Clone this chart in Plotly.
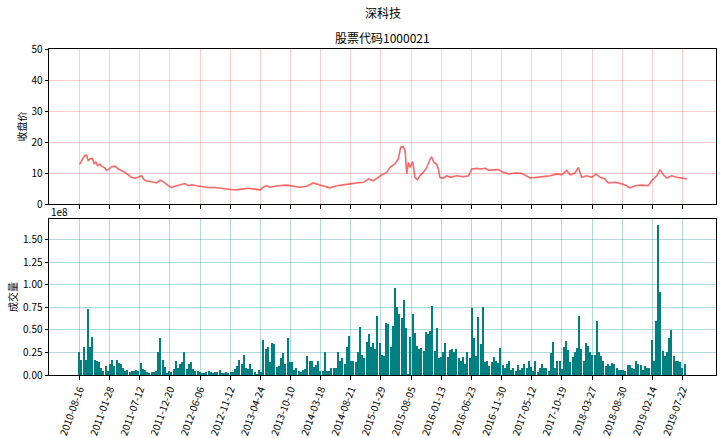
import plotly.graph_objects as go

# ---------------- data ----------------
tick_labels = ["2010-08-16", "2011-01-28", "2011-07-12", "2011-12-20", "2012-06-06",
               "2012-11-12", "2013-04-24", "2013-10-10", "2014-03-18", "2014-08-21",
               "2015-01-29", "2015-08-05", "2016-01-13", "2016-06-23", "2016-11-30",
               "2017-05-12", "2017-10-19", "2018-03-27", "2018-08-30", "2019-02-14",
               "2019-07-22"]
tick_every = 110          # trading days between labelled ticks

# trading-day number of each close-price reading
price_day = [0, 2, 10, 20, 26, 32, 38, 47, 54, 59, 66, 75, 81, 91, 99, 109, 117, 130, 142, 154,
             166, 178, 190, 203, 215, 227, 233, 245, 263, 282, 294, 306, 324, 336, 348, 367, 385,
             397, 409, 427, 446, 470, 494, 519, 543, 567, 592, 616, 640, 659, 671, 683, 695, 707, 725,
             756, 780, 804, 829, 853, 877, 902, 914, 938, 963, 987, 1011, 1036, 1054, 1072, 1090,
             1102, 1121, 1133, 1151, 1163, 1172, 1181, 1188, 1194, 1200, 1206, 1216, 1224, 1233,
             1242, 1254, 1267, 1279, 1285, 1293, 1303, 1309, 1315, 1327, 1340, 1352, 1376, 1400,
             1419, 1431, 1449, 1461, 1479, 1495,
             1504, 1528, 1546, 1565, 1589, 1613, 1631, 1644, 1668, 1692, 1717, 1741, 1759, 1777,
             1790, 1808, 1820, 1832, 1850, 1869, 1884, 1899, 1917, 1929, 1954, 1978, 1996, 2008,
             2027, 2051, 2075, 2087, 2106, 2118, 2130, 2142, 2160, 2179, 2197, 2215]
close_price = [13.2, 12.9, 14.3, 15.6, 15.8, 14.0, 14.5, 14.7, 12.9, 13.7,
               12.4, 12.9, 12.2, 11.8, 10.8, 11.3, 12.0, 12.2, 11.3, 10.8,
               10.2, 9.4, 8.6, 8.3, 8.7, 9.1, 8.1, 7.4, 7.2, 6.8,
               7.7, 7.2, 5.9, 5.3, 5.7, 6.1, 6.6, 5.9, 6.2, 5.9,
               5.6, 5.3, 5.3, 5.1, 4.8, 4.5, 4.8, 5.1, 4.8, 4.5,
               5.4, 5.9, 5.4, 5.6, 5.9,
               6.1, 5.7, 5.4, 5.7, 6.8, 6.1, 5.4, 5.2, 5.9, 6.1,
               6.5, 6.8, 7.0, 8.1, 7.5, 8.6, 9.4, 10.2, 11.8, 12.9,
               14.5, 18.3, 18.5, 17.2, 9.7, 13.4, 11.8, 13.7, 8.6, 7.8,
               9.1, 10.2, 11.8, 14.5, 15.1, 13.4, 12.9, 11.3, 8.6, 8.3,
               9.1, 8.6, 9.1, 8.8, 9.1, 11.3, 11.5, 11.3, 11.5, 10.8,
               11.0, 11.1, 10.2, 9.7, 10.0, 9.9, 9.1, 8.4, 8.6, 8.9,
               9.1, 9.7, 9.4, 10.8, 9.4, 10.0, 11.8, 8.6, 9.1, 8.6,
               9.7, 8.6, 8.1, 6.8, 7.0, 6.5, 5.9, 5.2, 5.9, 6.1,
               5.9, 7.5, 9.1, 11.1, 9.4, 8.4, 9.1, 8.6, 8.3, 8.1]

# traded volume (units of 1e8), one reading every `volume_step` trading days
volume_step = 8
volume_e8 = [0.26, 0.17, 0.31, 0.17, 0.73, 0.31, 0.42, 0.17, 0.16, 0.14,
             0.08, 0.05, 0.10, 0.04, 0.12, 0.17, 0.10, 0.17, 0.13, 0.12,
             0.075, 0.05, 0.06, 0.037, 0.05, 0.045, 0.056, 0.045, 0.13, 0.065,
             0.06, 0.037, 0.015, 0.037, 0.037, 0.04, 0.25, 0.41, 0.17, 0.09,
             0.022, 0.045, 0.037, 0.063, 0.15, 0.075, 0.12, 0.14, 0.26, 0.063,
             0.12, 0.14, 0.067, 0.045, 0.045, 0.03, 0.022, 0.022, 0.03, 0.041,
             0.03, 0.022, 0.03, 0.037, 0.052, 0.015, 0.022, 0.03, 0.022, 0.03,
             0.03, 0.063, 0.10, 0.17, 0.12, 0.22, 0.08, 0.063, 0.12, 0.063,
             0.037, 0.007, 0.056, 0.037, 0.39, 0.29, 0.31, 0.14, 0.35, 0.34,
             0.09, 0.10, 0.19, 0.24,
             0.12, 0.41, 0.14, 0.14, 0.06, 0.075, 0.05, 0.035, 0.056, 0.067,
             0.21, 0.16, 0.15, 0.09, 0.11, 0.15, 0.05, 0.05, 0.26, 0.045,
             0.045, 0.08, 0.08, 0.075, 0.25, 0.16, 0.19, 0.12, 0.31, 0.43,
             0.16, 0.16, 0.14, 0.25, 0.53, 0.22, 0.19, 0.37, 0.45, 0.31,
             0.35, 0.29, 0.66, 0.36, 0.22, 0.21, 0.58, 0.57, 0.31, 0.54,
             0.97, 0.75, 0.68, 0.63, 0.83, 0.52, 0.01, 0.42, 0.68, 0.47,
             0.32, 0.29, 0.30, 0.27, 0.48, 0.45, 0.49, 0.77, 0.27, 0.52,
             0.19, 0.20, 0.25, 0.36, 0.20, 0.28, 0.29, 0.25, 0.29, 0.19,
             0.16, 0.20, 0.12, 0.25, 0.19, 0.74, 0.41, 0.21, 0.64, 0.34,
             0.75, 0.14, 0.16, 0.10,
             0.14, 0.20, 0.16, 0.13, 0.30, 0.11, 0.08, 0.12, 0.16, 0.06,
             0.08, 0.05, 0.11, 0.06, 0.08, 0.12, 0.08, 0.15, 0.09, 0.05,
             0.16, 0.03, 0.08, 0.12, 0.08, 0.08, 0.05, 0.24, 0.37, 0.08,
             0.16, 0.16, 0.07, 0.31, 0.38, 0.28, 0.14, 0.20, 0.26, 0.30,
             0.66, 0.29, 0.16, 0.35, 0.32, 0.26, 0.22, 0.22, 0.60, 0.25,
             0.21, 0.15, 0.10, 0.12, 0.10, 0.13, 0.12, 0.08, 0.06, 0.06,
             0.06, 0.04, 0.11, 0.11, 0.08, 0.07, 0.16, 0.12, 0.11, 0.06,
             0.10, 0.08, 0.08, 0.39, 0.16, 0.60, 1.66, 0.92, 0.27, 0.21,
             0.25, 0.41, 0.50, 0.21, 0.16, 0.15, 0.14, 0.08, 0.12]

volume_day = [k * volume_step for k in range(len(volume_e8))]
tick_vals = [k * tick_every for k in range(len(tick_labels))]

# ---------------- figure ----------------
FONT = "Noto Sans CJK SC, Noto Sans, DejaVu Sans"
W, H = 728, 438
ml, mr, mt, mb = 49, 12, 49, 63
ph = H - mt - mb
pw = W - ml - mr

fig = go.Figure()
fig.add_trace(go.Scatter(x=price_day, y=close_price, mode="lines",
                         line=dict(color="rgba(255,0,0,0.6)", width=1.6),
                         xaxis="x", yaxis="y", showlegend=False))
fig.add_trace(go.Bar(x=volume_day, y=volume_e8, width=volume_step * 0.65,
                     marker=dict(color="#008080", line=dict(width=0)),
                     xaxis="x2", yaxis="y2", showlegend=False))

xrange = [-111, 2322]
common_x = dict(range=xrange, tickmode="array", tickvals=tick_vals, automargin=False,
                ticks="outside", ticklen=3.5, tickcolor="black", tickwidth=1,
                showline=True, linecolor="black", linewidth=1, mirror=True,
                zeroline=False, showgrid=True, gridwidth=0.8)
common_y = dict(ticks="outside", ticklen=3.5, tickcolor="black", tickwidth=1,
                automargin=False,
                showline=True, linecolor="black", linewidth=1, mirror=True,
                zeroline=False, showgrid=True, gridwidth=0.8,
                tickfont=dict(size=10, color="black", family=FONT))

top_dom = [(ph - 155) / ph, 1.0]
bot_dom = [0.0, 156 / ph]

fig.update_layout(
    width=W, height=H,
    margin=dict(l=ml, r=mr, t=mt, b=mb, autoexpand=False),
    paper_bgcolor="white", plot_bgcolor="white",
    font=dict(family=FONT, size=10, color="black"),
    bargap=0,
    xaxis=dict(common_x, domain=[0, 1], anchor="y", showticklabels=False,
               gridcolor="rgba(255,0,0,0.2)"),
    yaxis=dict(common_y, domain=top_dom, anchor="x", range=[0, 50], dtick=10,
               gridcolor="rgba(255,0,0,0.2)"),
    xaxis2=dict(common_x, domain=[0, 1], anchor="y2", ticktext=tick_labels,
                tickangle=-70, tickfont=dict(size=10, color="black", family=FONT),
                gridcolor="rgba(0,128,128,0.3)"),
    yaxis2=dict(common_y, domain=bot_dom, anchor="x2", range=[0, 1.732],
                dtick=0.25, tickformat=".2f", gridcolor="rgba(0,128,128,0.3)"),
)

def px(p):   # page pixel -> paper x
    return (p - ml) / pw

def py(p):   # page pixel -> paper y
    return (H - mb - p) / ph

fig.add_annotation(text="深科技", x=px(382.5), y=py(13), xref="paper", yref="paper",
                   showarrow=False, font=dict(size=12, family=FONT), xanchor="center", yanchor="middle")
fig.add_annotation(text="股票代码1000021", x=px(382.5), y=py(38), xref="paper", yref="paper",
                   showarrow=False, font=dict(size=12, family=FONT), xanchor="center", yanchor="middle")
fig.add_annotation(text="收盘价", x=px(21), y=py(126.5), xref="paper", yref="paper",
                   showarrow=False, textangle=-90, font=dict(size=10, family=FONT),
                   xanchor="center", yanchor="middle")
fig.add_annotation(text="成交量", x=px(12), y=py(297), xref="paper", yref="paper",
                   showarrow=False, textangle=-90, font=dict(size=10, family=FONT),
                   xanchor="center", yanchor="middle")
fig.add_annotation(text="1e8", x=px(49), y=py(211), xref="paper", yref="paper",
                   showarrow=False, font=dict(size=10, family=FONT),
                   xanchor="left", yanchor="middle")

fig.write_html("out.html", config={"displayModeBar": False},
               post_script="document.body.style.margin='0px';")
